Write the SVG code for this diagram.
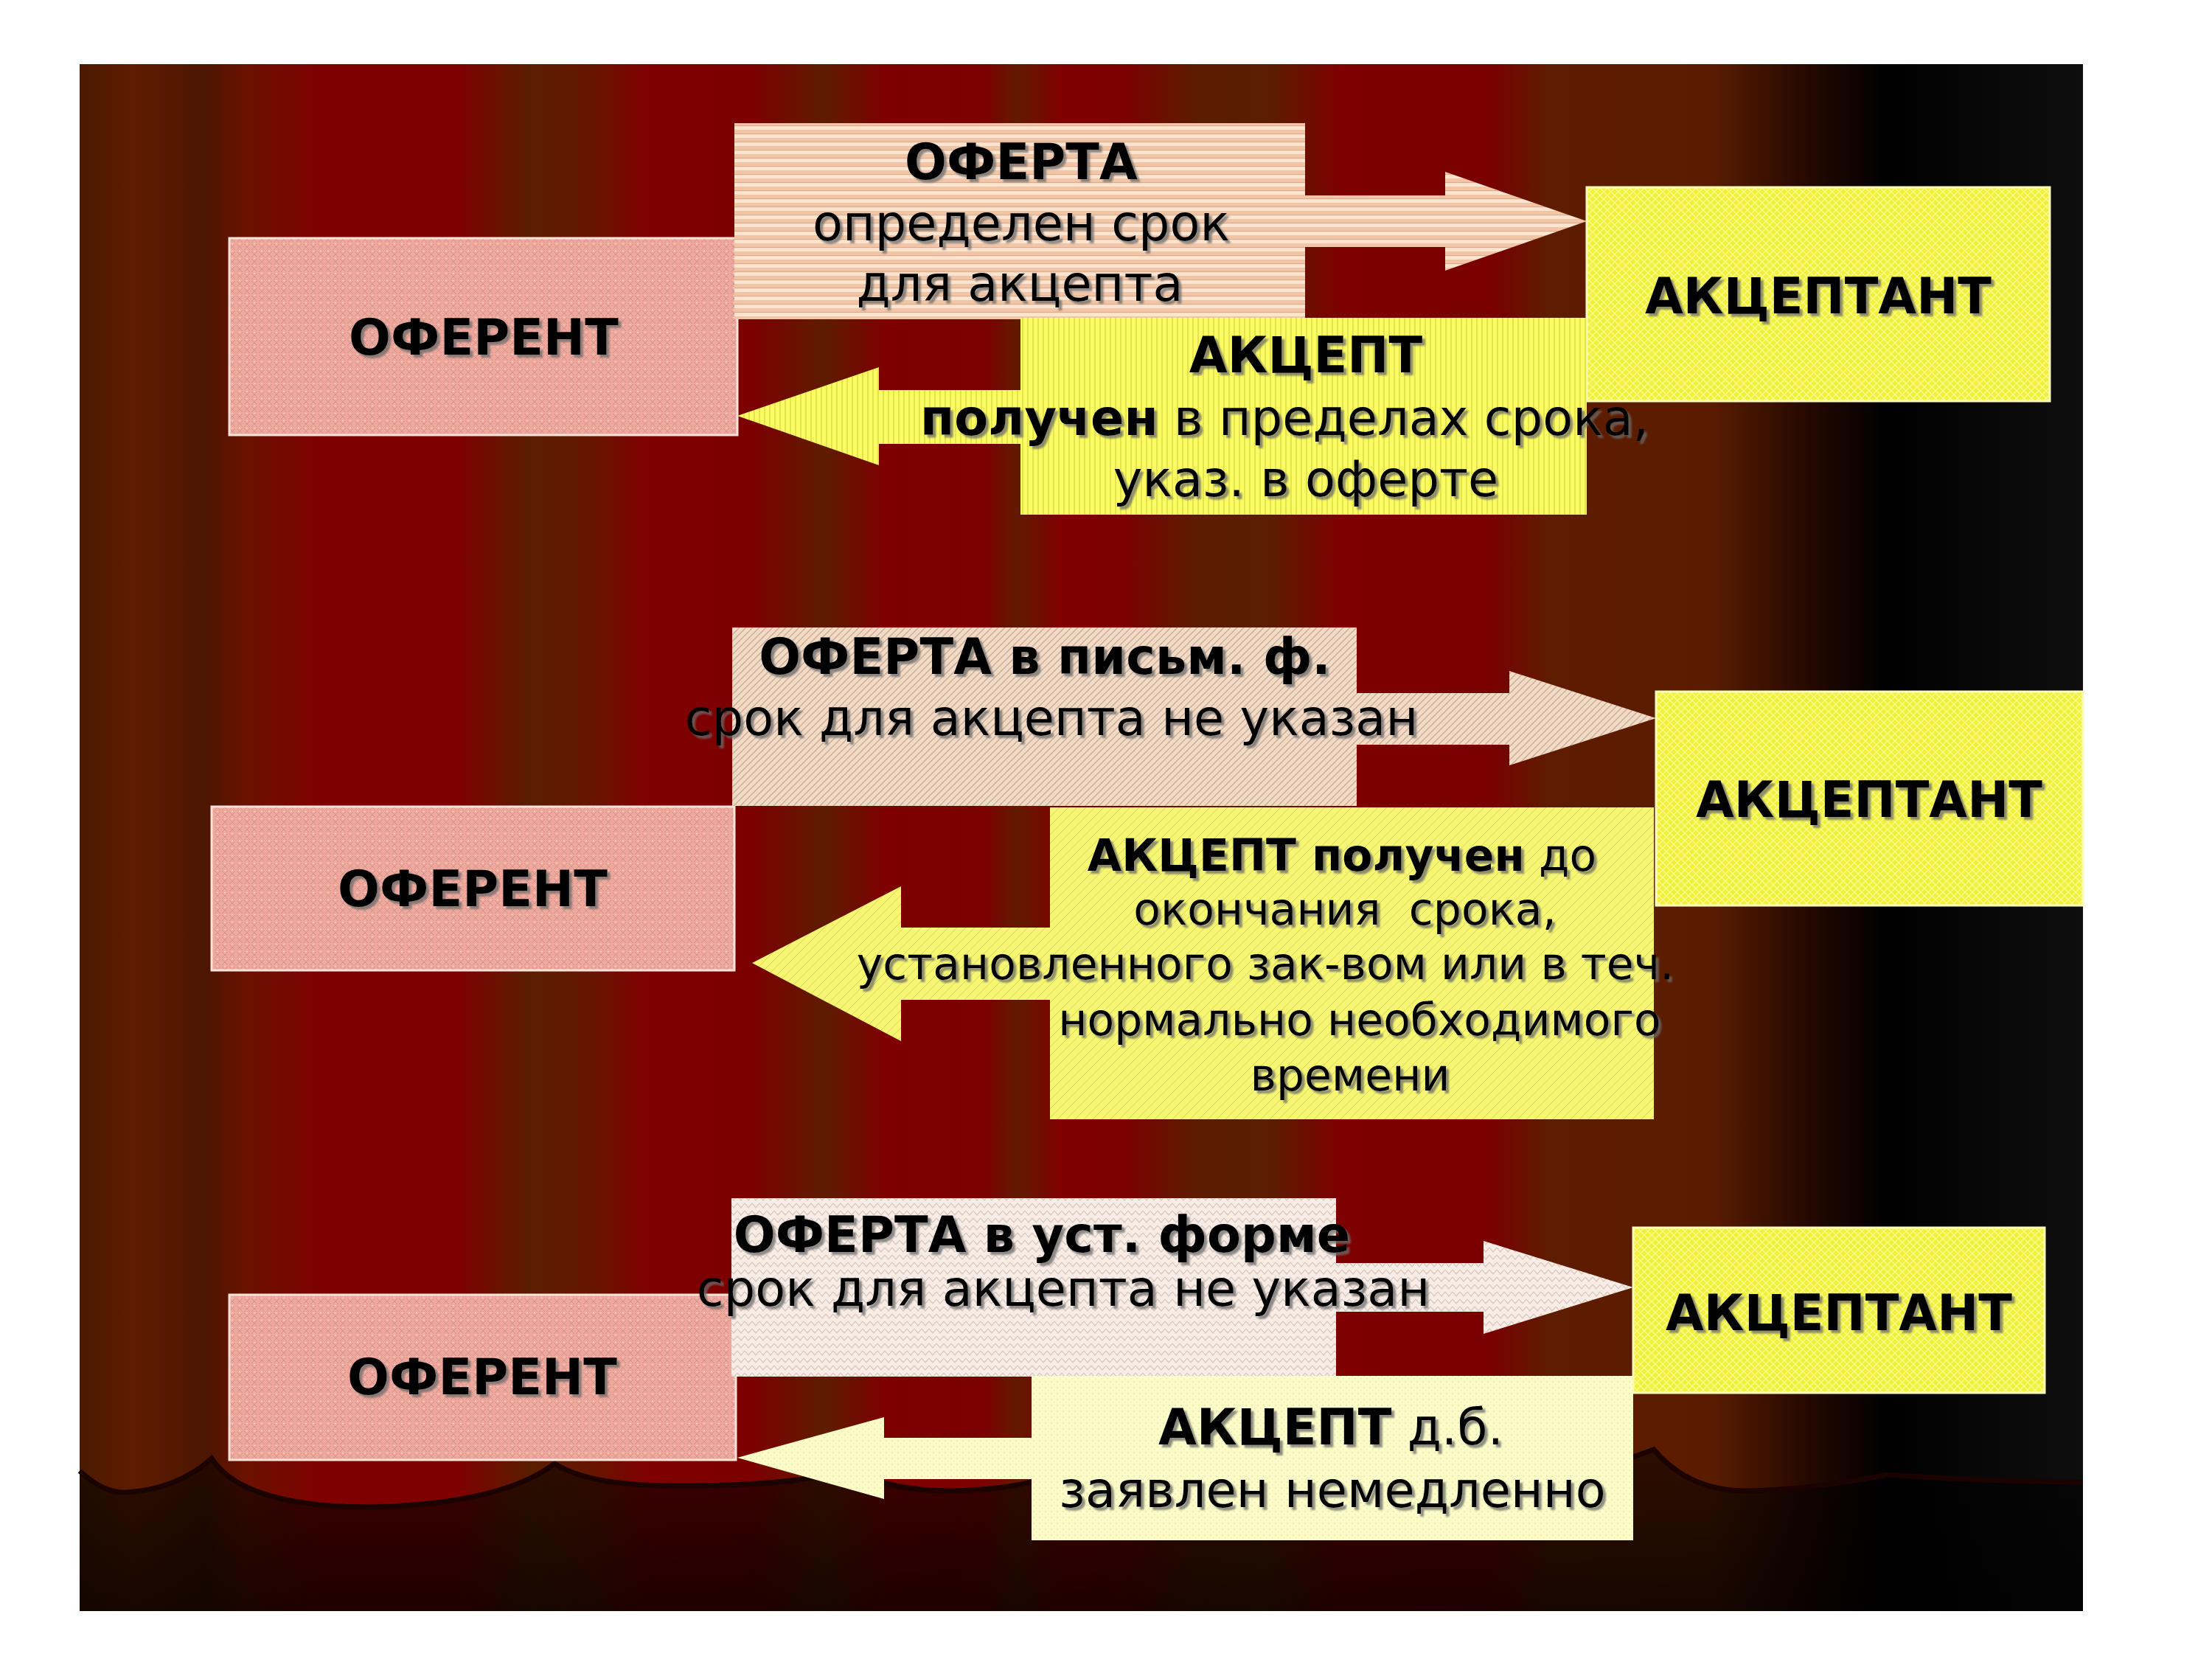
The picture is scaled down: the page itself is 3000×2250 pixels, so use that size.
<svg xmlns="http://www.w3.org/2000/svg" width="3000" height="2250" viewBox="0 0 3000 2250">
<style>
.t{font-family:"DejaVu Sans","Liberation Sans",sans-serif;font-size:67px;fill:#000;text-anchor:middle;filter:url(#sh)}
.b{font-weight:bold}
.s{font-size:60px}
.pinkbox{fill:url(#pPink);stroke:#fbe2da;stroke-width:3}
.ybox{fill:url(#pYellowD);stroke:#fbfbb8;stroke-width:3}
</style>
<defs>
<filter id="sh" x="-5%" y="-20%" width="110%" height="140%">
<feDropShadow dx="4" dy="4" stdDeviation="1" flood-color="#6a6a6a" flood-opacity="0.75"/>
</filter>
<linearGradient id="gCurtain" gradientUnits="userSpaceOnUse" x1="108" y1="0" x2="2825" y2="0">
<stop offset="0" stop-color="#4a1a00"/>
<stop offset="0.0265" stop-color="#5e1c00"/>
<stop offset="0.063" stop-color="#4c1600"/>
<stop offset="0.082" stop-color="#6a1200"/>
<stop offset="0.122" stop-color="#7e0000"/>
<stop offset="0.188" stop-color="#7e0000"/>
<stop offset="0.225" stop-color="#5a1e00"/>
<stop offset="0.255" stop-color="#661600"/>
<stop offset="0.284" stop-color="#800000"/>
<stop offset="0.336" stop-color="#7c0000"/>
<stop offset="0.372" stop-color="#5e1c00"/>
<stop offset="0.402" stop-color="#7e0000"/>
<stop offset="0.453" stop-color="#7a0200"/>
<stop offset="0.468" stop-color="#621a00"/>
<stop offset="0.49" stop-color="#800000"/>
<stop offset="0.523" stop-color="#7a0200"/>
<stop offset="0.557" stop-color="#5c1c00"/>
<stop offset="0.593" stop-color="#5a1e00"/>
<stop offset="0.63" stop-color="#7e0000"/>
<stop offset="0.704" stop-color="#7a0000"/>
<stop offset="0.733" stop-color="#5e1c00"/>
<stop offset="0.814" stop-color="#5a1c00"/>
<stop offset="0.858" stop-color="#2a0a00"/>
<stop offset="0.902" stop-color="#000000"/>
<stop offset="0.954" stop-color="#080808"/>
<stop offset="1" stop-color="#0e0e0e"/>
</linearGradient>
<linearGradient id="gBottom" gradientUnits="userSpaceOnUse" x1="0" y1="1960" x2="0" y2="2185">
<stop offset="0" stop-color="#000" stop-opacity="0.5"/>
<stop offset="1" stop-color="#000" stop-opacity="0.75"/>
</linearGradient>
<pattern id="pPink" width="10" height="10" patternUnits="userSpaceOnUse">
<rect width="10" height="10" fill="#f1a89c"/>
<path d="M1,1L9,9M9,1L1,9" stroke="#b98f88" stroke-width="1" opacity="0.7"/>
<circle cx="5" cy="0" r="1" fill="#fde4de"/>
</pattern>
<pattern id="pPeach" width="11" height="11" patternUnits="userSpaceOnUse">
<rect width="11" height="11" fill="#fbe4d0"/>
<rect y="0" width="11" height="5" fill="#f1c5a5"/>
<rect y="5" width="11" height="1.2" fill="#d9ad8e"/>
</pattern>
<pattern id="pBeige" width="9" height="9" patternUnits="userSpaceOnUse">
<rect width="9" height="9" fill="#f1dac6"/>
<path d="M0,9L9,0M-2,2L2,-2M7,11L11,7" stroke="#c9ab95" stroke-width="1.3"/>
</pattern>
<pattern id="pCream" width="10" height="10" patternUnits="userSpaceOnUse">
<rect width="10" height="10" fill="#f8ede6"/>
<path d="M0,2L5,8L10,2" fill="none" stroke="#d9c8bf" stroke-width="1.2"/>
</pattern>
<pattern id="pYellowD" width="10" height="10" patternUnits="userSpaceOnUse">
<rect width="10" height="10" fill="#f1f13a"/>
<path d="M5,0L10,5L5,10L0,5Z" fill="none" stroke="#fafa90" stroke-width="1.4"/>
</pattern>
<pattern id="pYellowV" width="7" height="7" patternUnits="userSpaceOnUse">
<rect width="7" height="7" fill="#fcfc62"/>
<rect x="0" width="2" height="7" fill="#e4e44e"/>
</pattern>
<pattern id="pYellowDiag" width="12" height="12" patternUnits="userSpaceOnUse">
<rect width="12" height="12" fill="#f6f672"/>
<path d="M0,12L12,0M-2,2L2,-2M10,14L14,10" stroke="#d6d65c" stroke-width="1"/>
</pattern>
<pattern id="pPale" width="8" height="8" patternUnits="userSpaceOnUse">
<rect width="8" height="8" fill="#fcfcc8"/>
<circle cx="2" cy="2" r="1.1" fill="#e9e9ad"/>
<circle cx="6" cy="6" r="1.1" fill="#f0f0bb"/>
</pattern>
</defs>

<rect width="3000" height="2250" fill="#ffffff"/>
<g id="background">
<rect x="108" y="87" width="2717" height="2098" fill="url(#gCurtain)"/>
<path d="M108,1995 Q140,2025 171,2024 Q240,2020 287,1978 Q330,2044 502,2044 Q680,2040 752,1985 Q800,2016 921,2015 Q1100,2015 1150,1990 Q1200,2022 1290,2022 Q1400,2020 1450,1990 Q1700,2030 1850,2020 Q2100,2020 2243,1966 Q2290,2022 2368,2022 Q2460,2020 2560,2000 Q2700,2010 2825,2010 L2825,2185 L108,2185 Z" fill="url(#gBottom)"/>
<path d="M108,1995 Q140,2025 171,2024 Q240,2020 287,1978 Q330,2044 502,2044 Q680,2040 752,1985 Q800,2016 921,2015 Q1100,2015 1150,1990 Q1200,2022 1290,2022 Q1400,2020 1450,1990 Q1700,2030 1850,2020 Q2100,2020 2243,1966 Q2290,2022 2368,2022 Q2460,2020 2560,2000 Q2700,2010 2825,2010" fill="none" stroke="#1a0300" stroke-width="7"/>
</g>

<g id="connectors">
<path id="c-oferta-1" d="M1760,265 L1960,265 L1960,233 L2152,300 L1960,367 L1960,335 L1760,335 Z" fill="url(#pPeach)"/>
<path id="c-akcept-1" d="M1394,529 L1192,529 L1192,498 L1000,564 L1192,631 L1192,602 L1394,602 Z" fill="url(#pYellowV)"/>
<path id="c-oferta-2" d="M1830,940 L2047,940 L2047,910 L2246,974 L2047,1038 L2047,1010 L1830,1010 Z" fill="url(#pBeige)"/>
<path id="c-akcept-2" d="M1434,1258 L1222,1258 L1222,1202 L1020,1306 L1222,1412 L1222,1356 L1434,1356 Z" fill="url(#pYellowDiag)"/>
<path id="c-oferta-3" d="M1802,1713 L2012,1713 L2012,1683 L2215,1746 L2012,1809 L2012,1779 L1802,1779 Z" fill="url(#pCream)"/>
<path id="c-akcept-3" d="M1409,1950 L1199,1950 L1199,1922 L1000,1977 L1199,2033 L1199,2006 L1409,2006 Z" fill="url(#pPale)"/>
</g>

<g id="node-oferent-1">
<rect class="pinkbox" x="311" y="323" width="689" height="267"/>
<text class="t b" x="656" y="481">ОФЕРЕНТ</text>
</g>
<g id="node-oferta-1">
<rect x="996" y="167" width="774" height="266" fill="url(#pPeach)"/>
<text class="t b" x="1385" y="243">ОФЕРТА</text>
<text class="t" x="1385" y="326">определен срок</text>
<text class="t" x="1383" y="408">для акцепта</text>
</g>
<g id="node-akceptant-1">
<rect class="ybox" x="2152" y="254" width="628" height="290"/>
<text class="t b" x="2466" y="425">АКЦЕПТАНТ</text>
</g>
<g id="node-akcept-1">
<rect x="1384" y="431" width="768" height="267" fill="url(#pYellowV)"/>
<text class="t b" x="1771" y="505">АКЦЕПТ</text>
<text class="t" x="1742" y="590"><tspan class="b">получен</tspan> в пределах срока,</text>
<text class="t" x="1771" y="673">указ. в оферте</text>
</g>

<g id="node-oferent-2">
<rect class="pinkbox" x="287" y="1094" width="709" height="222"/>
<text class="t b" x="641" y="1229">ОФЕРЕНТ</text>
</g>
<g id="node-oferta-2">
<rect x="993" y="851" width="847" height="242" fill="url(#pBeige)"/>
<text class="t b" x="1417" y="914">ОФЕРТА в письм. ф.</text>
<text class="t" x="1426" y="997">срок для акцепта не указан</text>
</g>
<g id="node-akceptant-2">
<rect class="ybox" x="2246" y="938" width="579" height="290"/>
<text class="t b" x="2535" y="1108">АКЦЕПТАНТ</text>
</g>
<g id="node-akcept-2">
<rect x="1424" y="1095" width="819" height="423" fill="url(#pYellowDiag)"/>
<text class="t s" x="1820" y="1181"><tspan class="b">АКЦЕПТ получен</tspan> до</text>
<text class="t s" x="1824" y="1254" xml:space="preserve">окончания  срока,</text>
<text class="t s" x="1716" y="1328">установленного зак-вом или в теч.</text>
<text class="t s" x="1844" y="1404">нормально необходимого</text>
<text class="t s" x="1831" y="1479">времени</text>
</g>

<g id="node-oferent-3">
<rect class="pinkbox" x="311" y="1756" width="687" height="224"/>
<text class="t b" x="654" y="1891">ОФЕРЕНТ</text>
</g>
<g id="node-oferta-3">
<rect x="992" y="1625" width="820" height="242" fill="url(#pCream)"/>
<text class="t b" x="1413" y="1698">ОФЕРТА в уст. форме</text>
<text class="t" x="1442" y="1771">срок для акцепта не указан</text>
</g>
<g id="node-akceptant-3">
<rect class="ybox" x="2215" y="1665" width="558" height="224"/>
<text class="t b" x="2494" y="1804">АКЦЕПТАНТ</text>
</g>
<g id="node-akcept-3">
<rect x="1399" y="1866" width="816" height="223" fill="url(#pPale)"/>
<text class="t" x="1805" y="1959"><tspan class="b">АКЦЕПТ</tspan> д.б.</text>
<text class="t" x="1807" y="2044">заявлен немедленно</text>
</g>
</svg>
